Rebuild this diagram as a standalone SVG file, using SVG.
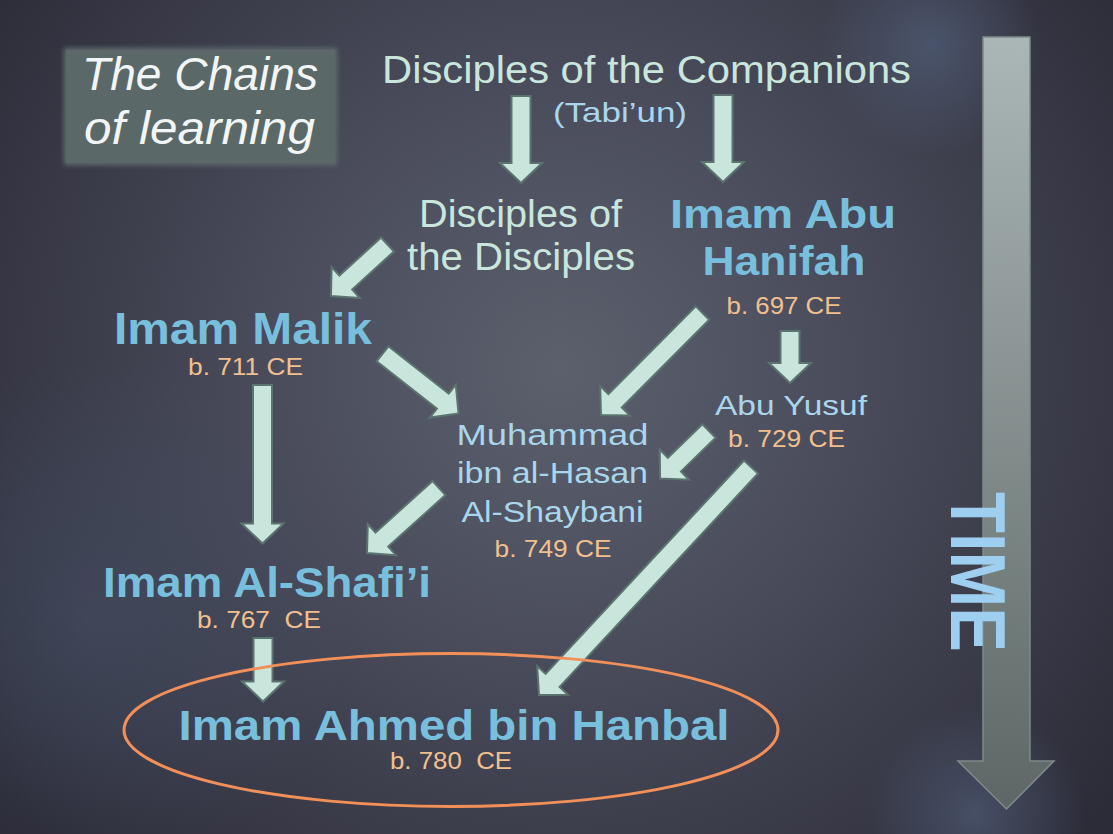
<svg xmlns="http://www.w3.org/2000/svg" width="1113" height="834" viewBox="0 0 1113 834">
<defs>
<radialGradient id="bg" cx="560" cy="370" r="700" gradientUnits="userSpaceOnUse">
<stop offset="0" stop-color="#5c606d"/>
<stop offset="0.45" stop-color="#484a59"/>
<stop offset="1" stop-color="#2c2b38"/>
</radialGradient>
<radialGradient id="glow1" cx="930" cy="45" r="110" gradientUnits="userSpaceOnUse">
<stop offset="0" stop-color="#4d5a72" stop-opacity="0.8"/>
<stop offset="1" stop-color="#4d5a72" stop-opacity="0"/>
</radialGradient>
<radialGradient id="glow2" cx="975" cy="815" r="110" gradientUnits="userSpaceOnUse">
<stop offset="0" stop-color="#4a566e" stop-opacity="0.8"/>
<stop offset="1" stop-color="#4a566e" stop-opacity="0"/>
</radialGradient>
<radialGradient id="glow3" cx="90" cy="620" r="260" gradientUnits="userSpaceOnUse">
<stop offset="0" stop-color="#46546a" stop-opacity="0.5"/>
<stop offset="1" stop-color="#46546a" stop-opacity="0"/>
</radialGradient>
<linearGradient id="timeg" x1="0" y1="37" x2="0" y2="809" gradientUnits="userSpaceOnUse">
<stop offset="0" stop-color="#abb6b6"/>
<stop offset="1" stop-color="#5d6766"/>
</linearGradient>
<filter id="soft" x="-20%" y="-20%" width="140%" height="140%">
<feGaussianBlur stdDeviation="2.5"/>
</filter>
</defs>
<style>
.arr{fill:#c9e6dc;stroke:#5c7470;stroke-width:2;stroke-linejoin:miter}
.t{font-family:"Liberation Sans",Arial,sans-serif;text-anchor:middle}
.mint{fill:#c9e6dc;font-size:38px}
.lb{fill:#a9d6ec}
.name{fill:#78bfdd;font-weight:bold}
.date{fill:#f2c08f;font-size:24px;white-space:pre}
.title{fill:#f2f5f5;font-style:italic;font-size:46px}
</style>
<rect width="1113" height="834" fill="url(#bg)"/>
<rect width="1113" height="834" fill="url(#glow1)"/>
<rect width="1113" height="834" fill="url(#glow2)"/>
<rect width="1113" height="834" fill="url(#glow3)"/>

<g id="title">
<rect x="64" y="48" width="273" height="117" fill="#5f6d6d" filter="url(#soft)"/>
<rect x="66" y="50" width="269" height="113" fill="#5a6868"/>
<text class="t title" x="200" y="90" textLength="236" lengthAdjust="spacingAndGlyphs">The Chains</text>
<text class="t title" x="199.5" y="144" textLength="231" lengthAdjust="spacingAndGlyphs">of learning</text>
</g>

<g id="time">
<polygon points="983,37 1030,37 1030,761 1054,761 1006.5,809 958,761 983,761" fill="url(#timeg)" stroke="#7d8b8a" stroke-width="1.5"/>
<text class="t" transform="translate(951,492) rotate(90)" x="80" y="0" fill="#9ecff0" font-weight="bold" font-size="78" textLength="160" lengthAdjust="spacingAndGlyphs">TIME</text>
</g>

<g id="connectors">
<polygon class="arr" points="511.5,96 511.5,163 500,163 521,183 542,163 530.5,163 530.5,96"/>
<polygon class="arr" points="713.5,95 713.5,162 702,162 723,182 744,162 732.5,162 732.5,95"/>
<polygon class="arr" points="780.5,331 780.5,363 769,363 790,383 811,363 799.5,363 799.5,331"/>
<polygon class="arr" points="253,385 253,523.5 241.5,523.5 262.5,543.5 283.5,523.5 272,523.5 272,385"/>
<polygon class="arr" points="253.5,638 253.5,681.5 242,681.5 263,701.5 284,681.5 272.5,681.5 272.5,638"/>
<polygon class="arr" points="381.1,237.5 339.4,275.5 331.6,267.0 331,296 359.9,298.0 352.2,289.5 393.9,251.5"/>
<polygon class="arr" points="376.6,361.3 436.9,408.6 429.8,417.6 458.5,413.5 455.8,384.6 448.7,393.6 388.4,346.3"/>
<polygon class="arr" points="695.8,306.3 608.4,394.1 600.2,386.0 601,415 630.0,415.6 621.8,407.5 709.2,319.7"/>
<polygon class="arr" points="702.4,424.2 667.8,457.8 659.8,449.5 660,478.5 689.0,479.7 681.0,471.4 715.6,437.8"/>
<polygon class="arr" points="432.6,481.0 375.5,532.5 367.8,524.0 367,553 395.9,555.2 388.2,546.6 445.4,495.1"/>
<polygon class="arr" points="744.0,460.5 545.6,673.9 537.2,666.1 539,695 568.0,694.7 559.6,686.9 758.0,473.5"/>
</g>

<g id="companions">
<text class="t mint" x="646.5" y="83.3" textLength="529" lengthAdjust="spacingAndGlyphs">Disciples of the Companions</text>
<text class="t lb" x="620" y="121.7" font-size="28" textLength="134" lengthAdjust="spacingAndGlyphs">(Tabi’un)</text>
</g>

<g id="disciples">
<text class="t mint" x="520.5" y="226.7" textLength="203" lengthAdjust="spacingAndGlyphs">Disciples of</text>
<text class="t mint" x="521" y="270" textLength="228" lengthAdjust="spacingAndGlyphs">the Disciples</text>
</g>

<g id="abuhanifah">
<text class="t name" x="783" y="228.3" font-size="40" textLength="226" lengthAdjust="spacingAndGlyphs">Imam Abu</text>
<text class="t name" x="784" y="275" font-size="40" textLength="163" lengthAdjust="spacingAndGlyphs">Hanifah</text>
<text class="t date" x="784" y="314" textLength="115" lengthAdjust="spacingAndGlyphs">b. 697 CE</text>
</g>

<g id="malik">
<text class="t name" x="243" y="344" font-size="44" textLength="258" lengthAdjust="spacingAndGlyphs">Imam Malik</text>
<text class="t date" x="245.5" y="375" textLength="115" lengthAdjust="spacingAndGlyphs">b. 711 CE</text>
</g>

<g id="abuyusuf">
<text class="t lb" x="791" y="415" font-size="28" textLength="152" lengthAdjust="spacingAndGlyphs">Abu Yusuf</text>
<text class="t date" x="786.5" y="446.7" textLength="117" lengthAdjust="spacingAndGlyphs">b. 729 CE</text>
</g>

<g id="shaybani">
<text class="t lb" x="552.5" y="445" font-size="30" textLength="192" lengthAdjust="spacingAndGlyphs">Muhammad</text>
<text class="t lb" x="552.5" y="483.3" font-size="30" textLength="191" lengthAdjust="spacingAndGlyphs">ibn al-Hasan</text>
<text class="t lb" x="552.5" y="521.7" font-size="30" textLength="182" lengthAdjust="spacingAndGlyphs">Al-Shaybani</text>
<text class="t date" x="553" y="556.7" textLength="117" lengthAdjust="spacingAndGlyphs">b. 749 CE</text>
</g>

<g id="shafii">
<text class="t name" x="267" y="596.7" font-size="42" textLength="328" lengthAdjust="spacingAndGlyphs">Imam Al-Shafi’i</text>
<text class="t date" x="259" y="628.3" textLength="124" lengthAdjust="spacingAndGlyphs">b. 767  CE</text>
</g>

<g id="ahmed">
<ellipse cx="451" cy="730" rx="327" ry="76.5" fill="none" stroke="#f3905a" stroke-width="3"/>
<text class="t name" x="454" y="740" font-size="42" textLength="551" lengthAdjust="spacingAndGlyphs">Imam Ahmed bin Hanbal</text>
<text class="t date" x="451" y="769" textLength="122" lengthAdjust="spacingAndGlyphs">b. 780  CE</text>
</g>
</svg>
